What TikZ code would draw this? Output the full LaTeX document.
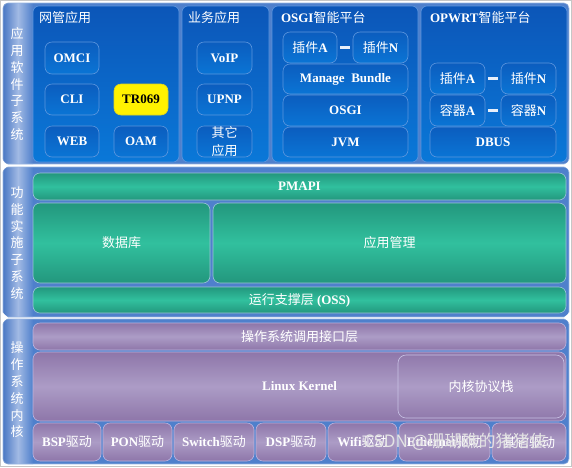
\documentclass[tikz,border=0pt]{standalone}
\usepackage{fontspec}
\setmainfont{Liberation Serif}
\newfontfamily\cjk{Noto Sans CJK SC}
\newcommand\zh{\cjk\mdseries\fontsize{13}{17}\selectfont}
\newcommand\lt{\rmfamily\bfseries\fontsize{13}{15}\selectfont}
\newcommand\bx[7][]{\node[#1, anchor=north west, minimum width={(#5-#3)*1pt}, minimum height={(#6-#4)*1pt}] (#2) at (#3,#4) {#7};}
\definecolor{secblue}{HTML}{4F80CC}
\definecolor{bltop}{HTML}{0C56B8}
\definecolor{blbot}{HTML}{0A78D8}
\definecolor{blrim}{HTML}{5C96DE}
\definecolor{grtop}{HTML}{23977D}
\definecolor{grmid}{HTML}{31C09E}
\definecolor{grrim}{HTML}{9CC4D8}
\definecolor{putop}{HTML}{8E76A9}
\definecolor{pumid}{HTML}{AC9CC6}
\definecolor{purim}{HTML}{BCB4DE}
\definecolor{colL}{HTML}{4A78C4}
\definecolor{colM}{HTML}{A2BAE4}
\definecolor{wmark}{HTML}{E4E4E4}
\begin{document}
\begin{tikzpicture}[x=1pt,y=-1pt,
  every node/.style={inner sep=0pt, outer sep=0pt},
  sidelbl/.style={font=\cjk\fontsize{13}{16.8}\selectfont, text=white, align=center},
  blpanel/.style={rounded corners=6pt, top color=bltop, bottom color=blbot, draw=blrim, line width=0.6pt},
  ptitle/.style={anchor=west, text=white, font=\zh},
  blitem/.style={rounded corners=7pt, top color=bltop!80!blbot, bottom color=blbot!90!bltop, draw=blrim, line width=0.6pt, text=white, font=\lt, align=center},
  yeitem/.style={rounded corners=7pt, fill=yellow, draw=yellow!85!black, line width=0.6pt, text=black, font=\lt},
  gritem/.style={rounded corners=7pt, top color=grtop, bottom color=grtop, middle color=grmid, draw=grrim, line width=0.6pt, text=white, font=\zh},
  puitem/.style={rounded corners=7pt, top color=putop, bottom color=putop, middle color=pumid, draw=purim, line width=0.6pt, text=white, font=\zh},
  inbox/.style={rounded corners=8pt, draw=purim!80!white, line width=0.6pt, text=white, font=\zh},
  dashc/.style={draw=white!85!blrim, line width=2.6pt, shorten <=3pt, shorten >=3pt},
  notch/.style={fill=white, draw=none}
]
\useasboundingbox (0,0) rectangle (572,467);
\fill[white] (0,0) rectangle (572,467);
\draw[gray!45, line width=0.8pt] (0.4,0.4) rectangle (571.6,466.6);

% ---------- section panels ----------
\foreach \ya/\yb in {3/164, 167/317, 319/464}{
  \begin{scope}
    \clip[rounded corners=5pt] (3,\ya) rectangle (569,\yb);
    \fill[secblue] (3,\ya) rectangle (569,\yb);
    \fill[left color=colL, right color=secblue, middle color=colM] (3,\ya) rectangle (33,\yb);
  \end{scope}
  \draw[rounded corners=5pt, draw=secblue!60!white, line width=0.6pt] (3,\ya) rectangle (569,\yb);
}
\fill[notch] (3,161) -- (8,165.5) -- (3,170) -- cycle;
\fill[notch] (3,313) -- (8,317.5) -- (3,322) -- cycle;
\fill[notch] (569,161) -- (564,165.5) -- (569,170) -- cycle;
\fill[notch] (569,313) -- (564,317.5) -- (569,322) -- cycle;

\node[sidelbl] (s1) at (17,84) {应\\用\\软\\件\\子\\系\\统};
\node[sidelbl] (s2) at (17,243) {功\\能\\实\\施\\子\\系\\统};
\node[sidelbl] (s3) at (17,390) {操\\作\\系\\统\\内\\核};

% ---------- application subsystem ----------
\bx[blpanel]{p1}{33}{6}{179}{162}{}
\bx[blpanel]{p2}{182}{6}{269}{162}{}
\bx[blpanel]{p3}{272}{6}{418}{162}{}
\bx[blpanel]{p4}{421}{6}{567}{162}{}
\node[ptitle] (t1) at (39,18) {网管应用};
\node[ptitle] (t2) at (188,18) {业务应用};
\node[ptitle] (t3) at (281,18) {{\lt OSGI}智能平台};
\node[ptitle] (t4) at (430,18) {{\lt OPWRT}智能平台};

\bx[blitem]{omci}{45}{42}{99}{74}{OMCI}
\bx[blitem]{cli}{45}{84}{99}{115}{CLI}
\bx[blitem]{web}{45}{126}{99}{157}{WEB}
\bx[yeitem]{tr}{114}{84}{168}{115}{TR069}
\bx[blitem]{oam}{114}{126}{168}{157}{OAM}

\bx[blitem]{voip}{197}{42}{252}{74}{VoIP}
\bx[blitem]{upnp}{197}{84}{252}{115}{UPNP}
\bx[blitem, font=\cjk\fontsize{13}{18}\selectfont]{other}{197}{126}{252}{157}{其它\\应用}

\bx[blitem]{oa}{283}{32}{337}{63}{{\zh 插件}A}
\bx[blitem]{on}{353}{32}{408}{63}{{\zh 插件}N}
\bx[blitem]{mb}{283}{64}{408}{94}{Manage\ \ Bundle}
\bx[blitem]{osgi}{283}{95}{408}{126}{OSGI}
\bx[blitem]{jvm}{283}{127}{408}{157}{JVM}
\draw[dashc] (oa) -- (on);

\bx[blitem]{wa}{430}{63}{485}{94}{{\zh 插件}A}
\bx[blitem]{wn}{501}{63}{556}{94}{{\zh 插件}N}
\bx[blitem]{ca}{430}{95}{485}{126}{{\zh 容器}A}
\bx[blitem]{cn}{501}{95}{556}{126}{{\zh 容器}N}
\bx[blitem]{dbus}{430}{127}{556}{157}{DBUS}
\draw[dashc] (wa) -- (wn);
\draw[dashc] (ca) -- (cn);

% ---------- function subsystem ----------
\bx[gritem, font=\lt]{pmapi}{33}{173}{566}{200}{PMAPI}
\bx[gritem]{db}{33}{203}{210}{283}{数据库}
\bx[gritem]{am}{213}{203}{566}{283}{应用管理}
\bx[gritem]{oss}{33}{287}{566}{313}{运行支撑层{\rmfamily\bfseries\ (OSS)}}

% ---------- OS kernel ----------
\bx[puitem]{syscall}{33}{323}{566}{350}{操作系统调用接口层}
\bx[puitem, font=\lt]{kernel}{33}{352}{566}{421}{Linux Kernel}
\bx[inbox]{stack}{398}{355}{564}{418}{内核协议栈}
\bx[puitem, font=\lt]{bsp}{33}{423}{101}{461}{BSP{\zh 驱动}}
\bx[puitem, font=\lt]{pon}{103}{423}{172}{461}{PON{\zh 驱动}}
\bx[puitem, font=\lt]{sw}{174}{423}{254}{461}{Switch{\zh 驱动}}
\bx[puitem, font=\lt]{dsp}{256}{423}{326}{461}{DSP{\zh 驱动}}
\bx[puitem, font=\lt]{wifi}{328}{423}{397}{461}{Wifi{\zh 驱动}}
\bx[puitem, font=\lt]{eth}{399}{423}{490}{461}{Ethernet{\zh 驱动}}
\bx[puitem]{odrv}{492}{423}{566}{461}{其它驱动}

% watermark
\node[font=\cjk\fontsize{17}{17}\selectfont, text=wmark] (wm) at (455,442) {CSDN\ @珊瑚礁的猪猪侠};
\end{tikzpicture}
\end{document}
